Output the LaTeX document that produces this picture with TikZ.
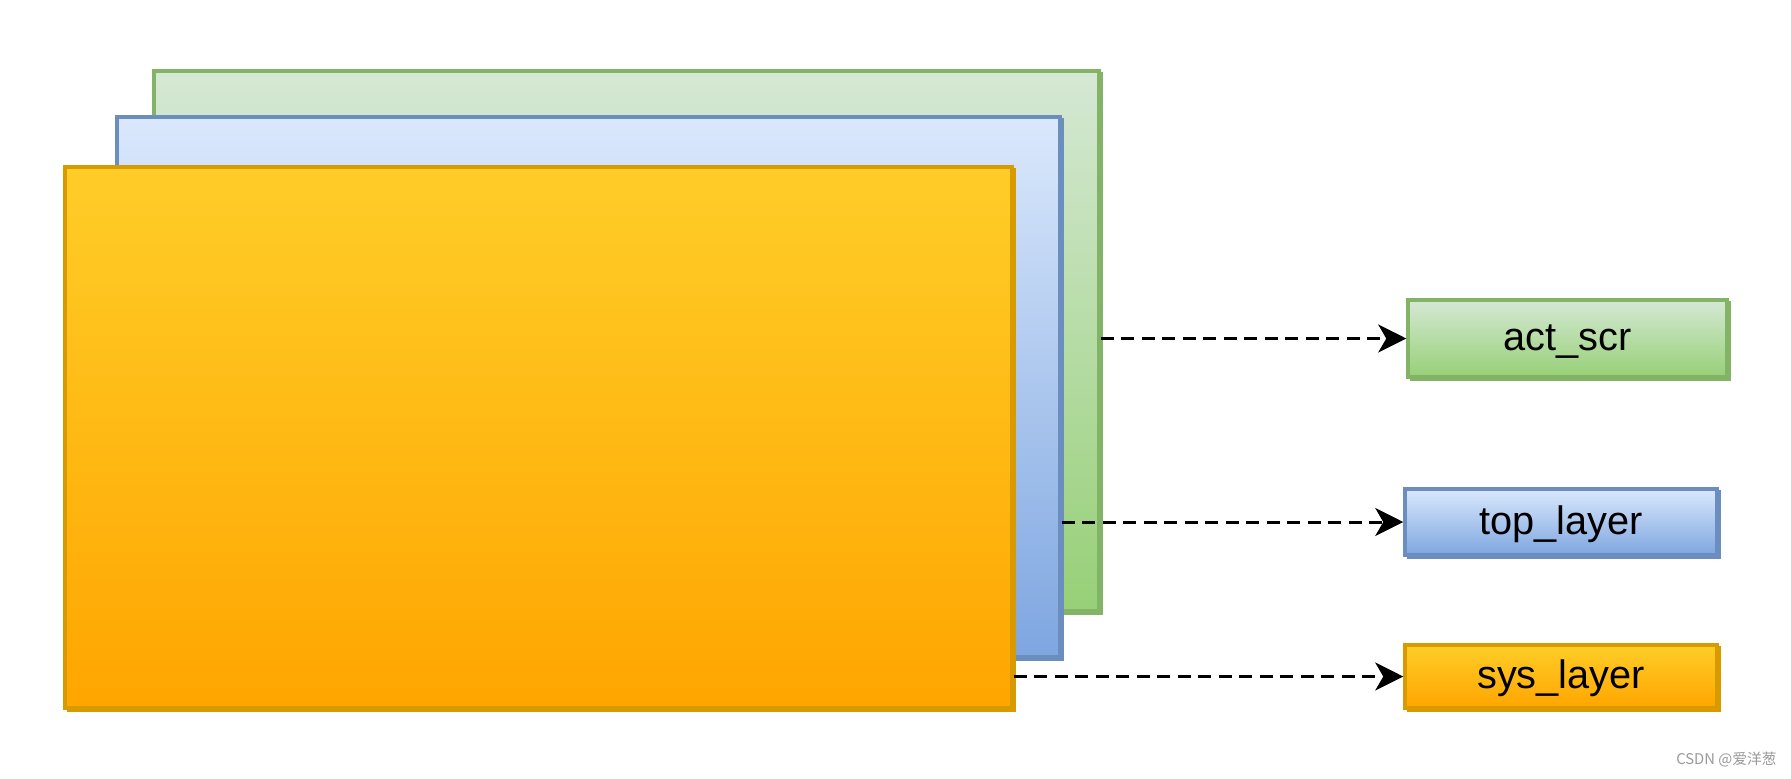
\documentclass[tikz,border=0pt]{standalone}
\usepackage{fontspec}
\setmainfont{Liberation Sans}
\newfontfamily\cjk{Noto Sans CJK SC}
\usetikzlibrary{arrows.meta}

\definecolor{grnfill}{HTML}{D5E8D4}
\definecolor{grnfoot}{HTML}{97D077}
\definecolor{grnline}{HTML}{82B366}
\definecolor{blufill}{HTML}{DAE8FC}
\definecolor{blufoot}{HTML}{7EA6E0}
\definecolor{bluline}{HTML}{6C8EBF}
\definecolor{orgfill}{HTML}{FFCD28}
\definecolor{orgfoot}{HTML}{FFA500}
\definecolor{orgline}{HTML}{D79B00}

\tikzset{
  sketchy/.style={line width=1pt, rectangle, inner sep=0pt,
    preaction={draw=#1, line width=0.6pt,
      transform canvas={shift={(0.9pt,-0.7pt)}}}},
  layerbox/.style={sketchy=#1, draw=#1},
  labelbox/.style={sketchy=#1, draw=#1, font=\fontsize{11.3}{13}\selectfont,
    text height=2.9mm, text depth=0.5mm},
  dasharrow/.style={line width=0.85pt, dash pattern=on 1.3mm off 0.75mm,
    -{Stealth[length=2.8mm,width=2.8mm,inset=0.8mm]}}
}

\begin{document}
\begin{tikzpicture}
\useasboundingbox (0,0) rectangle (17.91,7.78);
% stacked windows
\node[layerbox=grnline, top color=grnfill, bottom color=grnfoot,
      minimum width=9.45cm, minimum height=5.40cm] (actwin) at (6.265,4.37) {};
\node[layerbox=bluline, top color=blufill, bottom color=blufoot,
      minimum width=9.43cm, minimum height=5.40cm] (topwin) at (5.885,3.91) {};
\node[layerbox=orgline, top color=orgfill, bottom color=orgfoot,
      minimum width=9.47cm, minimum height=5.41cm] (syswin) at (5.385,3.405) {};
% labels
\node[labelbox=grnline, top color=grnfill, bottom color=grnfoot,
      minimum width=3.19cm, minimum height=0.77cm] (actscr) at (15.675,4.395) {act\_scr};
\node[labelbox=bluline, top color=blufill, bottom color=blufoot,
      minimum width=3.12cm, minimum height=0.66cm] (toplayer) at (15.61,2.56) {top\_layer};
\node[labelbox=orgline, top color=orgfill, bottom color=orgfoot,
      minimum width=3.12cm, minimum height=0.63cm] (syslayer) at (15.61,1.015) {sys\_layer};
% connectors
\draw[dasharrow] (actwin.east |- actscr.west) -- (actscr.west);
\draw[dasharrow] (topwin.east |- toplayer.west) -- (toplayer.west);
\draw[dasharrow] (syswin.east |- syslayer.west) -- (syslayer.west);
% watermark
\node[text=black!40, font=\cjk\fontsize{4.2}{5}\selectfont, anchor=east] (mark) at (17.89,0.18) {CSDN @爱洋葱};
\end{tikzpicture}
\end{document}
